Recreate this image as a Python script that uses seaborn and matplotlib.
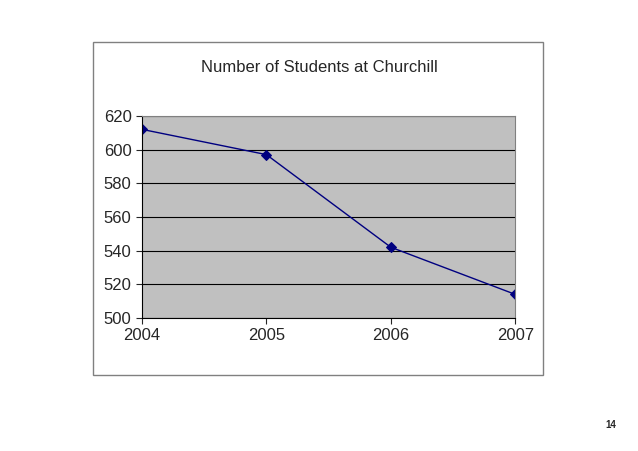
import matplotlib
matplotlib.use("Agg")
import matplotlib.pyplot as plt
import seaborn as sns
import pandas as pd
from matplotlib.patches import Rectangle

years = [2004, 2005, 2006, 2007]
students = [612, 597, 542, 514]
y_ticks = [500, 520, 540, 560, 580, 600, 620]

sns.set_style("white")
plt.rcParams["font.family"] = ["Liberation Sans Narrow", "Liberation Sans", "DejaVu Sans"]

df = pd.DataFrame({"year": years, "students": students})

fig = plt.figure(figsize=(6.38, 4.51), dpi=100)
fig.patches.append(Rectangle((0.146, 0.168), 0.705, 0.739, transform=fig.transFigure,
                             fill=False, edgecolor="#808080", linewidth=1))
ax = fig.add_axes([0.2226, 0.295, 0.585, 0.448])
ax.set_facecolor("#C0C0C0")
sns.lineplot(data=df, x="year", y="students", ax=ax, color="#000080",
             marker="D", markersize=5, markeredgecolor="#000080", linewidth=1)
ax.set_xlim(2004, 2007)
ax.set_ylim(500, 620)
ax.set_xticks(years)
ax.set_yticks(y_ticks)
ax.tick_params(labelsize=12, length=4, direction="out", left=True, bottom=True)
ax.grid(axis="y", color="black", linewidth=0.8)
for s in ax.spines.values():
    s.set_color("#808080")
ax.spines["left"].set_color("black")
ax.spines["bottom"].set_color("black")
ax.set_xlabel("")
ax.set_ylabel("")
fig.text(0.5, 0.851, "Number of Students at Churchill", ha="center", va="center", fontsize=12)
fig.text(0.958, 0.058, "14", ha="center", va="center", fontsize=7, fontweight="bold",
         family=["Liberation Sans", "DejaVu Sans"])
fig.savefig("out.png", dpi=100)
